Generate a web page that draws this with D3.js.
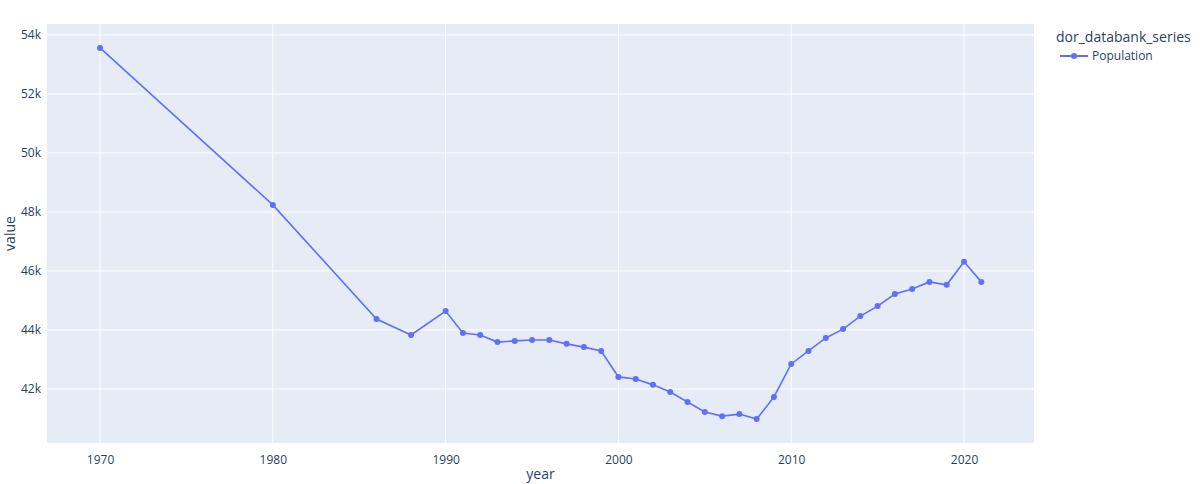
<!DOCTYPE html>
<html>
<head>
<meta charset="utf-8">
<script src="https://cdn.jsdelivr.net/npm/d3@7"></script>
<style>
  body { margin: 0; background: #fff; }
  text { font-family: "Open Sans", "DejaVu Sans", sans-serif; fill: #2a3f5f; }
</style>
</head>
<body>
<svg id="chart" width="1200" height="484"></svg>
<script>
const years = [1970,1980,1986,1988,1990,1991,1992,1993,1994,1995,1996,1997,1998,1999,
  2000,2001,2002,2003,2004,2005,2006,2007,2008,2009,2010,2011,2012,2013,2014,2015,
  2016,2017,2018,2019,2020,2021];
const population = [53560,48240,44370,43830,44640,43900,43830,43590,43630,43660,43660,43530,43420,43290,
  42410,42340,42140,41900,41560,41220,41080,41150,40980,41730,42850,43290,43730,44030,44470,44810,
  45220,45390,45630,45530,46310,45630];
const xTicks = [1970,1980,1990,2000,2010,2020];
const yTicks = [42000,44000,46000,48000,50000,52000,54000];

const margin = {left: 47, top: 24, right: 166, bottom: 41};
const width = 1200 - margin.left - margin.right;
const height = 484 - margin.top - margin.bottom;
const color = "#636efa";

const svg = d3.select("#chart");
const g = svg.append("g").attr("transform", `translate(${margin.left},${margin.top})`);

const data = years.map((y, i) => ({year: y, value: population[i]}));

const x = d3.scaleLinear().domain([1966.93, 2024.05]).range([0, width]);
const y = d3.scaleLinear().domain([40170, 54370]).range([height, 0]);

g.append("rect").attr("width", width).attr("height", height).attr("fill", "#e5ecf6");

g.selectAll(".vgrid").data(xTicks).enter().append("line")
  .attr("x1", d => x(d)).attr("x2", d => x(d)).attr("y1", 0).attr("y2", height)
  .attr("stroke", "#fff").attr("stroke-width", 1);
g.selectAll(".hgrid").data(yTicks).enter().append("line")
  .attr("y1", d => y(d)).attr("y2", d => y(d)).attr("x1", 0).attr("x2", width)
  .attr("stroke", "#fff").attr("stroke-width", 1);

const xAxis = g.append("g").attr("transform", `translate(0,${height})`)
  .call(d3.axisBottom(x).tickValues(xTicks).tickFormat(d3.format("d")).tickSize(0).tickPadding(12));
const yAxis = g.append("g")
  .call(d3.axisLeft(y).tickValues(yTicks).tickFormat(d => (d/1000) + "k").tickSize(0).tickPadding(6));
[xAxis, yAxis].forEach(a => {
  a.select(".domain").remove();
  a.selectAll("text").style("font-size", "12px").style("fill", "#2a3f5f")
    .style("font-family", '"Open Sans", "DejaVu Sans", sans-serif');
});

const line = d3.line().x(d => x(d.year)).y(d => y(d.value));
g.append("path").datum(data).attr("d", line)
  .attr("fill", "none").attr("stroke", color).attr("stroke-width", 1.6);
g.selectAll(".pt").data(data).enter().append("circle")
  .attr("cx", d => x(d.year)).attr("cy", d => y(d.value)).attr("r", 3).attr("fill", color);

svg.append("text").attr("x", margin.left + width / 2).attr("y", 479)
  .attr("text-anchor", "middle").style("font-size", "14px").text("year");
svg.append("text").attr("transform", `translate(15,${margin.top + height / 2}) rotate(-90)`)
  .attr("text-anchor", "middle").style("font-size", "14px").text("value");

const leg = svg.append("g").attr("transform", "translate(1056,0)");
leg.append("text").attr("x", 0).attr("y", 42).style("font-size", "14px").text("dor_databank_series");
leg.append("line").attr("x1", 4).attr("x2", 32).attr("y1", 56).attr("y2", 56)
  .attr("stroke", color).attr("stroke-width", 2);
leg.append("circle").attr("cx", 18).attr("cy", 56).attr("r", 3).attr("fill", color);
leg.append("text").attr("x", 36).attr("y", 60).style("font-size", "12px").text("Population");
</script>
</body>
</html>
